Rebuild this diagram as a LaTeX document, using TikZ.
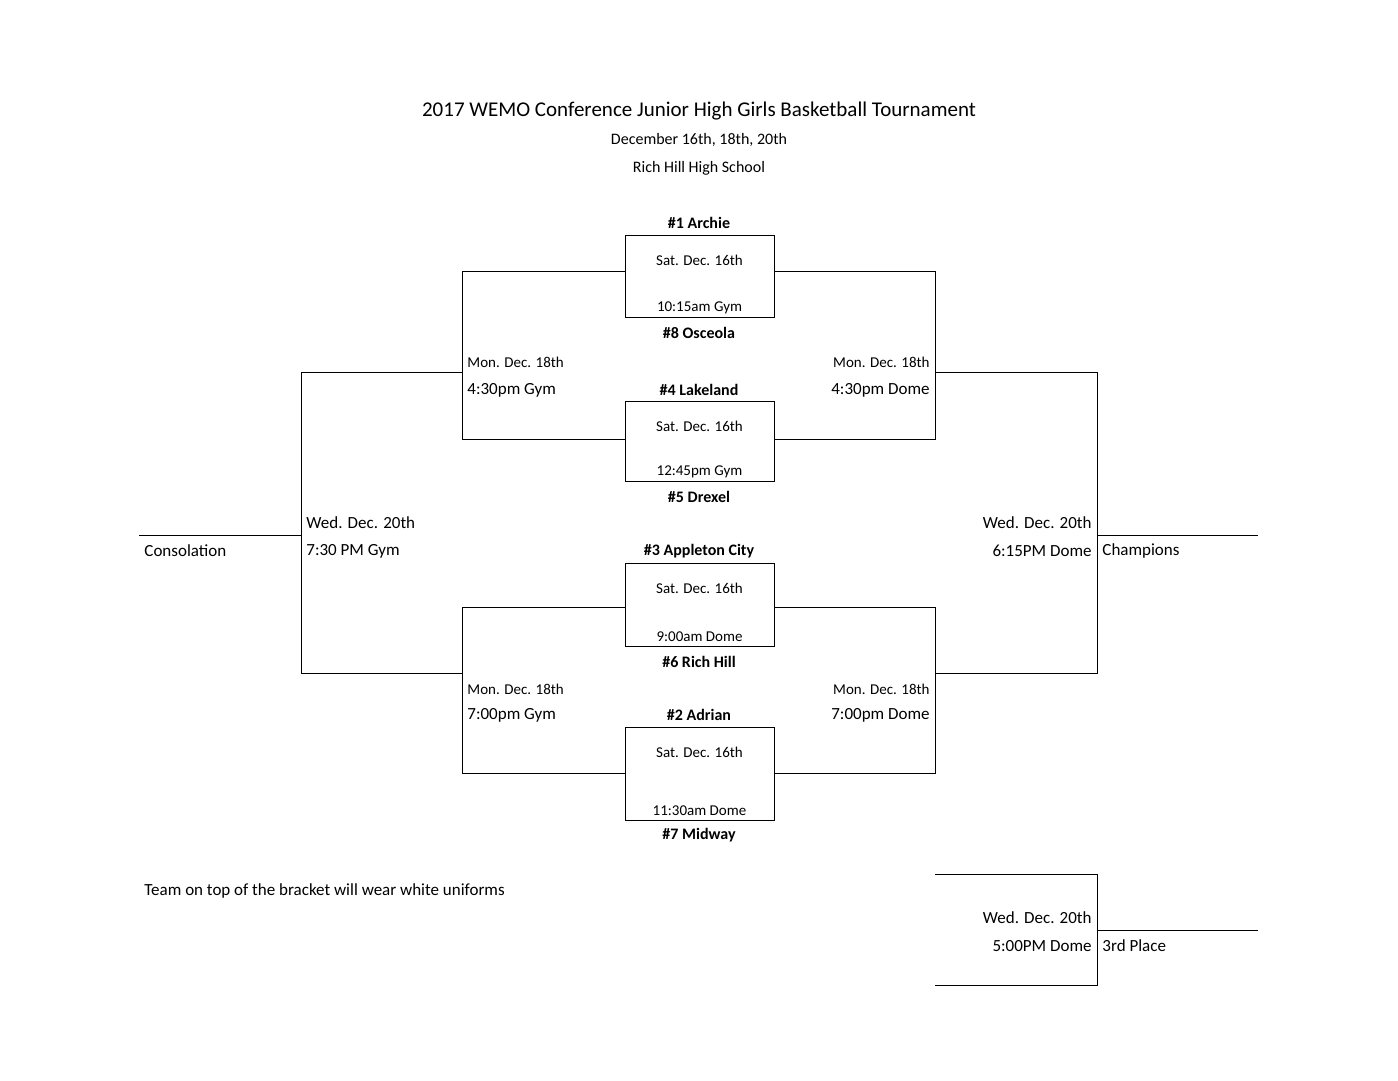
\documentclass[tikz,border=0pt]{standalone}
\usepackage{fontspec}
\setmainfont{Carlito}
\usetikzlibrary{positioning}
\tikzset{game/.style={draw,minimum width=149pt,minimum height=82pt,inner sep=0pt},
team/.style={font=\fontsize{16}{18}\selectfont\bfseries},
lbl/.style={font=\fontsize{15}{17}\selectfont,inner sep=0pt},
big/.style={font=\fontsize{17}{19}\selectfont,inner sep=0pt}}
\begin{document}
\begin{tikzpicture}[x=1pt,y=-1pt,line width=0.9pt]
\useasboundingbox (0,0) rectangle (1398,1080);
\node[font=\fontsize{21}{24}\selectfont] (title) at (699,111) {2017 WEMO Conference Junior High Girls Basketball Tournament};
\node[lbl,font=\fontsize{16}{18}\selectfont] (dates) at (699,140) {December 16th, 18th, 20th};
\node[lbl,font=\fontsize{16}{18}\selectfont] (place) at (699,168) {Rich Hill High School};
% first round
\node[game] (g1) at (699.5,276) {};
\node[game,minimum height=80pt] (g2) at (699.5,441) {};
\node[game,minimum height=83pt] (g3) at (699.5,604.5) {};
\node[game,minimum height=93pt] (g4) at (699.5,773.5) {};
\foreach \g/\t in {g1/10:15am Gym,g2/12:45pm Gym,g3/9:00am Dome,g4/11:30am Dome}{
  \node[lbl] at ([yshift=-26pt]\g.north) {Sat. Dec. 16th};
  \node[lbl] at ([yshift=10pt]\g.south) {\t};}
\node[team] (t1) at (699,223) {\#1 Archie};
\node[team] (t8) at (699,333) {\#8 Osceola};
\node[team] (t4) at (699,390) {\#4 Lakeland};
\node[team] (t5) at (699,497) {\#5 Drexel};
\node[team] (t3) at (699,551) {\#3 Appleton City};
\node[team] (t6) at (699,662) {\#6 Rich Hill};
\node[team] (t2) at (699,715) {\#2 Adrian};
\node[team] (t7) at (699,835) {\#7 Midway};
% second round
\coordinate (a1) at (462,271); \coordinate (a2) at (462,439);
\coordinate (b1) at (935,271); \coordinate (b2) at (935,439);
\coordinate (c1) at (462,607); \coordinate (c2) at (462,773);
\coordinate (d1) at (935,607); \coordinate (d2) at (935,773);
\draw (g1.west|-a1) -- (a1) -- (a2) -- (g2.west|-a2);
\draw (g1.east|-b1) -- (b1) -- (b2) -- (g2.east|-b2);
\draw (g3.west|-c1) -- (c1) -- (c2) -- (g4.west|-c2);
\draw (g3.east|-d1) -- (d1) -- (d2) -- (g4.east|-d2);
\node[lbl,anchor=west] (m1) at (467,362) {Mon. Dec. 18th};
\node[big,anchor=west] (m1t) at (467,390) {4:30pm Gym};
\node[lbl,anchor=east] (m2) at (930,362) {Mon. Dec. 18th};
\node[big,anchor=east] (m2t) at (930,390) {4:30pm Dome};
\node[lbl,anchor=west] (m3) at (467,689) {Mon. Dec. 18th};
\node[big,anchor=west] (m3t) at (467,715) {7:00pm Gym};
\node[lbl,anchor=east] (m4) at (930,689) {Mon. Dec. 18th};
\node[big,anchor=east] (m4t) at (930,715) {7:00pm Dome};
% finals
\coordinate (e1) at (301,372); \coordinate (e2) at (301,673);
\coordinate (f1) at (1097,372); \coordinate (f2) at (1097,673);
\draw (462,372) -- (e1) -- (e2) -- (462,673);
\draw (935,372) -- (f1) -- (f2) -- (935,673);
\coordinate (cons) at (139,535); \coordinate (champ) at (1258,535);
\draw (cons) -- (301,535);
\draw (1097,535) -- (champ);
\node[big,anchor=west] (w1) at (306,523) {Wed. Dec. 20th};
\node[big,anchor=west] (w1t) at (306,551) {7:30 PM Gym};
\node[big,anchor=west] (consl) at (144,551) {Consolation};
\node[big,anchor=east] (w2) at (1092,523) {Wed. Dec. 20th};
\node[big,anchor=east] (w2t) at (1092,551) {6:15PM Dome};
\node[big,anchor=west] (champl) at (1102,551) {Champions};
% third place
\coordinate (h1) at (1097,874); \coordinate (h2) at (1097,985);
\draw (935,874) -- (h1) -- (h2) -- (935,985);
\draw (1097,930) -- (1258,930);
\node[big,anchor=east] (w3) at (1092,918) {Wed. Dec. 20th};
\node[big,anchor=east] (w3t) at (1092,946) {5:00PM Dome};
\node[big,anchor=west] (third) at (1102,946) {3rd Place};
\node[big,anchor=west] (note) at (144,891) {Team on top of the bracket will wear white uniforms};
\end{tikzpicture}
\end{document}
